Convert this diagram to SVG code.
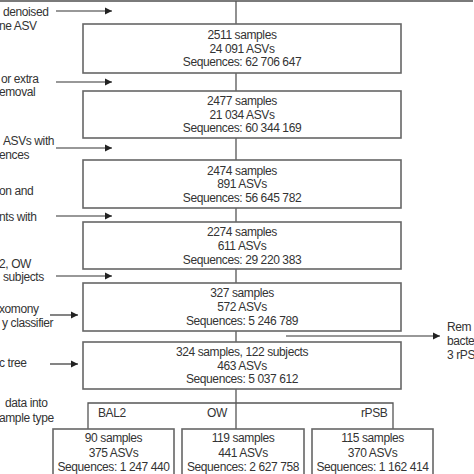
<svg xmlns="http://www.w3.org/2000/svg" width="474" height="474" viewBox="0 0 474 474">
<style>
text{font-family:"Liberation Sans",Arial,sans-serif;font-size:12px;letter-spacing:-0.4px;fill:#333}
.c{text-anchor:middle}
.box{fill:#fff;stroke:#666;stroke-width:1.6}
.ln{stroke:#555;stroke-width:1.3;fill:none}
.ar{stroke:#333;stroke-width:1.2;fill:none;marker-end:url(#ah)}
</style>
<defs>
<marker id="ah" markerWidth="8" markerHeight="8" refX="7" refY="4" orient="auto" markerUnits="userSpaceOnUse">
<path d="M0,0.5 L7,4 L0,7.5 Z" fill="#222"/>
</marker>
</defs>
<rect width="474" height="474" fill="#fff"/>
<g id="connectors">
<line x1="0" y1="1" x2="473" y2="1" stroke="#7a7a7a" stroke-width="2"/>
<line class="ln" x1="236" y1="1" x2="236" y2="24"/>
<line class="ln" x1="236" y1="73" x2="236" y2="91"/>
<line class="ln" x1="236" y1="138" x2="236" y2="160"/>
<line class="ln" x1="236" y1="208" x2="236" y2="222"/>
<line class="ln" x1="236" y1="269" x2="236" y2="283"/>
<line class="ln" x1="236" y1="331" x2="236" y2="342"/>
<line class="ln" x1="236" y1="389" x2="236" y2="429"/>
<polyline class="ln" points="88,429 88,403 393,403 393,429"/>
<line class="ar" x1="56" y1="11" x2="112" y2="11"/>
<line class="ar" x1="56" y1="82" x2="112" y2="82"/>
<line class="ar" x1="56" y1="148" x2="112" y2="148"/>
<line class="ar" x1="56" y1="216" x2="112" y2="216"/>
<line class="ar" x1="56" y1="276" x2="112" y2="276"/>
<line class="ar" x1="50" y1="315" x2="78" y2="315"/>
<line class="ar" x1="50" y1="364" x2="78" y2="364"/>
<line class="ar" x1="286" y1="336" x2="440" y2="336"/>
</g>
<g id="notes">
<text x="3" y="16">denoised</text>
<text x="-1" y="30">ne ASV</text>
<text x="1" y="83">or extra</text>
<text x="-1" y="96">emoval</text>
<text x="3" y="145">ASVs with</text>
<text x="-1" y="159">ences</text>
<text x="-1" y="195">on and</text>
<text x="-1" y="221">nts with</text>
<text x="-1" y="268">2, OW</text>
<text x="3" y="281">subjects</text>
<text x="-1" y="313">xomony</text>
<text x="2" y="327">y classifier</text>
<text x="-1" y="367">c tree</text>
<text x="5" y="407">data into</text>
<text x="-1" y="422">ample type</text>
<text x="447" y="331">Rem</text>
<text x="447" y="345">bacte</text>
<text x="447" y="359">3 rPS</text>
<text x="98" y="417">BAL2</text>
<text x="207" y="417">OW</text>
<text x="361" y="417">rPSB</text>
</g>
<g id="n1"><rect class="box" x="83" y="24" width="318" height="49"/>
<text class="c" x="242" y="39">2511 samples</text><text class="c" x="242" y="53">24 091 ASVs</text><text class="c" x="242" y="66">Sequences: 62 706 647</text></g>
<g id="n2"><rect class="box" x="83" y="91" width="318" height="47"/>
<text class="c" x="242" y="105">2477 samples</text><text class="c" x="242" y="119">21 034 ASVs</text><text class="c" x="242" y="132">Sequences: 60 344 169</text></g>
<g id="n3"><rect class="box" x="83" y="160" width="318" height="48"/>
<text class="c" x="242" y="175">2474 samples</text><text class="c" x="242" y="188">891 ASVs</text><text class="c" x="242" y="202">Sequences: 56 645 782</text></g>
<g id="n4"><rect class="box" x="83" y="222" width="318" height="47"/>
<text class="c" x="242" y="236">2274 samples</text><text class="c" x="242" y="250">611 ASVs</text><text class="c" x="242" y="264">Sequences: 29 220 383</text></g>
<g id="n5"><rect class="box" x="83" y="283" width="318" height="48"/>
<text class="c" x="242" y="297">327 samples</text><text class="c" x="242" y="311">572 ASVs</text><text class="c" x="242" y="325">Sequences: 5 246 789</text></g>
<g id="n6"><rect class="box" x="83" y="342" width="318" height="47"/>
<text class="c" x="242" y="356">324 samples, 122 subjects</text><text class="c" x="242" y="370">463 ASVs</text><text class="c" x="242" y="383">Sequences: 5 037 612</text></g>
<g id="n7"><rect class="box" x="53" y="429" width="121" height="50"/>
<text class="c" x="113.5" y="442">90 samples</text><text class="c" x="113.5" y="457">375 ASVs</text><text class="c" x="113.5" y="471">Sequences: 1 247 440</text></g>
<g id="n8"><rect class="box" x="182" y="429" width="122" height="50"/>
<text class="c" x="243" y="442">119 samples</text><text class="c" x="243" y="457">441 ASVs</text><text class="c" x="243" y="471">Sequences: 2 627 758</text></g>
<g id="n9"><rect class="box" x="312" y="429" width="121" height="50"/>
<text class="c" x="372.5" y="442">115 samples</text><text class="c" x="372.5" y="457">370 ASVs</text><text class="c" x="372.5" y="471">Sequences: 1 162 414</text></g>
</svg>
